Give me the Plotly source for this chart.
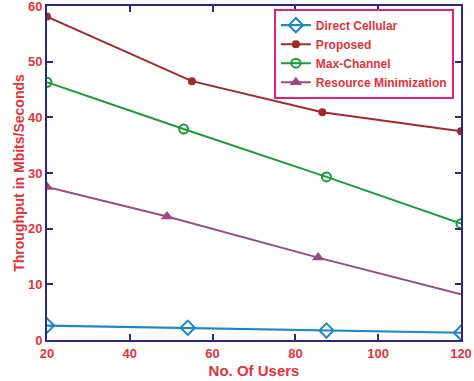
import plotly.graph_objects as go

users_dc = [20, 54, 87.5, 120]
direct_cellular = [2.6, 2.2, 1.7, 1.3]
users_prop = [20, 55, 86.5, 120]
proposed = [58.1, 46.5, 40.9, 37.5]
users_mc = [20, 53, 87.5, 120]
max_channel = [46.3, 37.9, 29.3, 20.9]
users_rm = [20, 49, 85.5, 120]
resource_min = [27.5, 22.2, 14.8, 8.2]

red = "#e2333b"
axis_col = "#2d2878"
font = "Liberation Sans, Arial, sans-serif"

fig = go.Figure()
fig.add_trace(go.Scatter(x=users_dc, y=direct_cellular, name="Direct Cellular", mode="lines+markers",
                         line=dict(color="#1f86c6", width=2.2),
                         marker=dict(symbol="diamond-open", size=11, line=dict(width=2, color="#1f86c6"))))
fig.add_trace(go.Scatter(x=users_prop, y=proposed, name="Proposed", mode="lines+markers",
                         line=dict(color="#a3282a", width=2),
                         marker=dict(symbol="circle", size=8, color="#a3282a")))
fig.add_trace(go.Scatter(x=users_mc, y=max_channel, name="Max-Channel", mode="lines+markers",
                         line=dict(color="#1c9a3e", width=2),
                         marker=dict(symbol="circle-open", size=9, line=dict(width=2, color="#1c9a3e"))))
fig.add_trace(go.Scatter(x=users_rm[:3], y=resource_min[:3], name="Resource Minimization", mode="markers",
                         marker=dict(symbol="triangle-up", size=11, color="#9a4a86"),
                         showlegend=False, legendgroup="rm"))
fig.add_trace(go.Scatter(x=users_rm, y=resource_min, name="Resource Minimization", mode="lines",
                         line=dict(color="#9a4a86", width=2), legendgroup="rm", showlegend=False))
fig.add_trace(go.Scatter(x=[None], y=[None], name="Resource Minimization", mode="lines+markers",
                         line=dict(color="#9a4a86", width=2),
                         marker=dict(symbol="triangle-up", size=11, color="#9a4a86"), legendgroup="rm"))

fig.update_layout(
    width=474, height=381,
    margin=dict(l=47, r=13, t=6, b=41),
    plot_bgcolor="white", paper_bgcolor="white",
    font=dict(family=font, color=red, size=13),
    showlegend=True,
    legend=dict(x=0.548, y=0.992, xanchor="left", yanchor="top",
                bordercolor="#e0207a", borderwidth=2, bgcolor="white",
                font=dict(family=font, size=12, color=red, weight="bold"),
                tracegroupgap=0, itemwidth=30),
    xaxis=dict(range=[20, 120], tickvals=[20, 40, 60, 80, 100, 120],
               automargin=False, ticklabeloverflow="allow",
               showline=True, linecolor=axis_col, linewidth=2, mirror="ticks",
               ticks="inside", ticklen=6, tickcolor=axis_col, tickwidth=2,
               showgrid=False, zeroline=False,
               tickfont=dict(family=font, size=13, color=red, weight="bold"),
               title=dict(text="No. Of Users", standoff=6,
                          font=dict(family=font, size=15, color=red, weight="bold"))),
    yaxis=dict(range=[0, 60], tickvals=[0, 10, 20, 30, 40, 50, 60],
               automargin=False, ticklabeloverflow="allow",
               showline=True, linecolor=axis_col, linewidth=2, mirror="ticks",
               ticks="inside", ticklen=6, tickcolor=axis_col, tickwidth=2,
               showgrid=False, zeroline=False,
               tickfont=dict(family=font, size=13, color=red, weight="bold"),
               title=dict(text="Throughput in Mbits/Seconds", standoff=0,
                          font=dict(family=font, size=14, color=red, weight="bold"))),
)

fig.write_html("out.html", config={"displayModeBar": False},
               post_script="document.body.style.margin='0';")
